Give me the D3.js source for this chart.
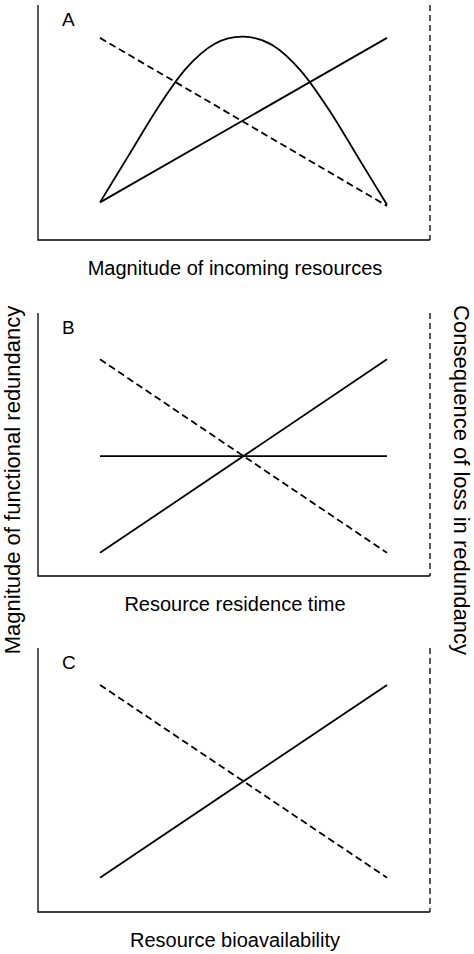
<!DOCTYPE html>
<html><head><meta charset="utf-8">
<script src="https://cdn.jsdelivr.net/npm/d3@7"></script>
<style>body{margin:0;background:#fff}text{font-family:"Liberation Sans",Arial,sans-serif;fill:#000}</style>
</head><body>
<svg id="c" width="474" height="954"></svg>
<script>
// data, x in 0..10, y in 0..100 of each panel
var panels = ["A", "B", "C"];
var xLabels = ["Magnitude of incoming resources", "Resource residence time", "Resource bioavailability"];
var humpX = [0, 1, 2, 3, 4, 5, 6, 7, 8, 9, 10];
var humpA = [16, 36, 56, 73, 83.5, 86.5, 83, 72, 55, 35, 15];
var solidA = [16, 86], dashedA = [86, 14.5];
var solidB = [8.8, 82.4], dashedB = [82.4, 8.8], flatB = [45.6, 45.6];
var solidC = [13, 86], dashedC = [86, 13];

var boxes = [{top: 5, bottom: 240}, {top: 313, bottom: 576}, {top: 648, bottom: 912}];
var lines = [
  [{v: solidA, dash: false}, {v: dashedA, dash: true}],
  [{v: solidB, dash: false}, {v: dashedB, dash: true}, {v: flatB, dash: false}],
  [{v: solidC, dash: false}, {v: dashedC, dash: true}]
];

var svg = d3.select("#c");
var x = d3.scaleLinear().domain([0, 10]).range([100, 387]);

boxes.forEach(function (b, i) {
  var y = d3.scaleLinear().domain([0, 100]).range([b.bottom, b.top]);
  var g = svg.append("g");
  g.append("path").attr("d", "M38," + b.top + "V" + b.bottom + "H430")
    .attr("fill", "none").attr("stroke", "#000").attr("stroke-width", 1.3);
  g.append("line").attr("x1", 430).attr("x2", 430).attr("y1", b.top).attr("y2", b.bottom)
    .attr("stroke", "#000").attr("stroke-width", 1.3).attr("stroke-dasharray", "6,4");
  g.append("text").attr("x", 62).attr("y", b.top + 21).attr("font-size", 19).text(panels[i]);
  g.append("text").attr("x", 235).attr("y", b.bottom + 35).attr("text-anchor", "middle")
    .attr("font-size", 20).text(xLabels[i]);

  var line = d3.line().x(function (d) { return x(d[0]); }).y(function (d) { return y(d[1]); });
  lines[i].forEach(function (l) {
    g.append("path").attr("d", line([[0, l.v[0]], [10, l.v[1]]]))
      .attr("fill", "none").attr("stroke", "#000").attr("stroke-width", 1.8)
      .attr("stroke-dasharray", l.dash ? "7,4" : null);
  });
  if (i === 0) {
    g.append("path").attr("d", line.curve(d3.curveCardinal)(humpX.map(function (h, k) { return [h, humpA[k]]; })))
      .attr("fill", "none").attr("stroke", "#000").attr("stroke-width", 1.8);
  }
});

svg.append("text").attr("transform", "translate(20,480) rotate(-90)").attr("text-anchor", "middle")
  .attr("font-size", 22).text("Magnitude of functional redundancy");
svg.append("text").attr("transform", "translate(454,480) rotate(90)").attr("text-anchor", "middle")
  .attr("font-size", 22).text("Consequence of loss in redundancy");
</script>
</body></html>
